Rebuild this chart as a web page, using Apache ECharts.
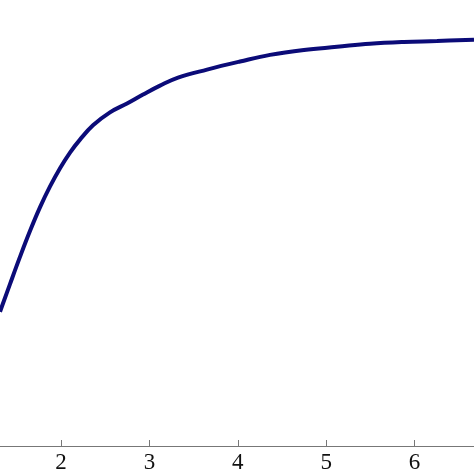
<!DOCTYPE html>
<html>
<head>
<meta charset="utf-8">
<script src="https://cdn.jsdelivr.net/npm/echarts@6/dist/echarts.min.js"></script>
<style>
html,body{margin:0;padding:0;background:#fff;}
#c{width:474px;height:474px;}
</style>
</head>
<body>
<div id="c"></div>
<script>
const xValues = [1.310,1.423,1.536,1.649,1.762,1.876,1.989,2.102,2.215,2.362,2.554,2.747,2.928,3.120,3.324,3.652,4.025,4.364,4.749,5.122,5.495,5.880,6.253,6.672];
const yValues = [0.301,0.363,0.424,0.482,0.535,0.582,0.623,0.658,0.687,0.719,0.748,0.768,0.788,0.808,0.826,0.844,0.862,0.877,0.888,0.895,0.902,0.906,0.908,0.911];
const xTicks = [2,3,4,5,6];
const xMin = 1.310, xMax = 6.672;

const chart = echarts.init(document.getElementById('c'), null, {renderer:'canvas'});
chart.setOption({
  animation:false,
  backgroundColor:'#ffffff',
  grid:{left:0, right:0, top:0, bottom:26.3, containLabel:false},
  xAxis:{
    type:'value', min:xMin, max:xMax,
    axisLine:{show:true, onZero:false, lineStyle:{color:'#777777', width:1.2}},
    axisTick:{show:true, inside:true, length:6, customValues:xTicks, lineStyle:{color:'#777777', width:1}},
    axisLabel:{show:true, margin:5, customValues:xTicks, color:'#111111', fontFamily:'Liberation Serif', fontSize:23,
      formatter:function(v){return String(Math.round(v));}},
    splitLine:{show:false}
  },
  yAxis:{
    type:'value', min:0, max:1, show:false, splitLine:{show:false}
  },
  series:[{
    type:'line',
    data:xValues.map((x,i)=>[x,yValues[i]]),
    smooth:0.4,
    showSymbol:false,
    lineStyle:{color:'#0b0b78', width:4},
    clip:true
  }]
});
</script>
</body>
</html>
